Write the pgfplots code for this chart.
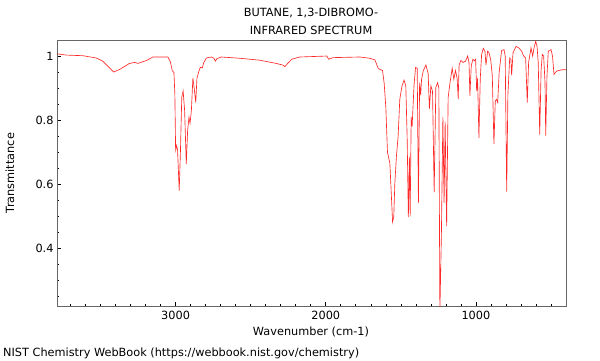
\documentclass[border=0pt]{standalone}
\usepackage{pgfplots}
\pgfplotsset{compat=1.18}
\usepackage{pgfplotstable}
\usepackage{fontspec}
\setmainfont{DejaVu Sans}
\definecolor{specred}{RGB}{255,40,40}
\pgfplotstableread{
wn T
3790 1.007
3729 1.003
3618 1.001
3529 0.994
3485 0.984
3440 0.963
3413 0.950
3373 0.958
3307 0.977
3273 0.980
3251 0.977
3195 0.986
3151 0.997
3051 0.997
3035 0.982
3022 0.954
3011 0.948
3005 0.880
3000 0.706
2993 0.721
2987 0.706
2976 0.580
2968 0.700
2959 0.871
2950 0.891
2940 0.830
2929 0.663
2920 0.768
2911 0.809
2904 0.790
2895 0.830
2885 0.931
2875 0.895
2866 0.855
2858 0.930
2845 0.953
2835 0.965
2822 0.963
2813 0.979
2795 0.994
2762 0.997
2745 0.993
2735 0.984
2725 0.992
2695 0.997
2572 0.993
2440 0.987
2340 0.978
2287 0.972
2273 0.967
2227 0.990
2173 0.997
1993 1.000
1980 0.990
1953 0.995
1773 0.997
1707 0.993
1673 0.988
1651 0.962
1640 0.958
1622 0.955
1611 0.915
1600 0.840
1589 0.700
1573 0.665
1555 0.482
1547 0.500
1540 0.603
1529 0.690
1518 0.750
1507 0.865
1493 0.905
1479 0.925
1467 0.907
1458 0.747
1450 0.497
1443 0.685
1438 0.500
1431 0.809
1425 0.780
1412 0.910
1402 0.964
1391 0.962
1383 0.541
1375 0.917
1368 0.878
1362 0.927
1350 0.955
1333 0.972
1318 0.945
1310 0.835
1300 0.907
1289 0.890
1278 0.575
1267 0.902
1255 0.917
1247 0.900
1240 0.200
1230 0.440
1220 0.809
1212 0.541
1205 0.795
1195 0.469
1185 0.870
1173 0.915
1158 0.962
1147 0.927
1136 0.955
1125 0.930
1118 0.866
1112 0.972
1100 0.986
1085 0.980
1069 0.984
1055 1.000
1046 0.980
1040 0.876
1031 0.970
1020 0.990
1011 0.985
1002 0.990
995 0.891
989 0.930
980 0.745
971 0.930
962 1.005
951 1.024
940 1.015
933 0.972
922 1.015
913 1.010
902 0.990
891 0.940
880 0.725
871 0.860
862 0.865
855 0.855
845 0.950
829 1.017
813 1.020
805 1.000
795 0.577
787 0.880
775 0.994
767 0.990
762 0.940
753 1.010
733 1.030
713 1.025
695 1.015
682 1.000
669 0.994
658 0.855
649 0.980
633 1.025
622 1.000
613 1.025
602 1.046
593 1.030
585 0.980
575 0.755
566 0.955
558 1.005
549 1.000
540 0.920
535 0.752
527 0.935
518 1.015
500 1.020
490 1.000
480 0.943
462 0.953
429 0.957
400 0.957
}\spec
\begin{document}
\begin{tikzpicture}[x=1bp,y=1bp,font=\fontsize{11.3bp}{13.5bp}\selectfont]
\path[use as bounding box] (0,0) rectangle (600,360);
\begin{axis}[
  at={(57bp,54bp)}, anchor=south west,
  scale only axis, width=509bp, height=266bp,
  x dir=reverse,
  xmin=400, xmax=3790,
  ymin=0.22, ymax=1.05,
  xtick={1000,2000,3000},
  minor xtick={500,600,...,3700},
  ytick={0.4,0.6,0.8,1},
  yticklabels={0.4,0.6,0.8,1},
  minor ytick={0.25,0.3,0.35,0.45,0.5,0.55,0.65,0.7,0.75,0.85,0.9,0.95,1.0},
  tick align=inside,
  xtick pos=bottom, ytick pos=left,
  major tick length=4bp, minor tick length=2.5bp,
  every tick/.style={black, line width=0.6bp},
  axis line style={draw=black!60, line width=0.9bp},
  /pgf/number format/assume math mode=true,
  /pgf/number format/1000 sep={},
  tick label style={font=\fontsize{11.3bp}{13.5bp}\selectfont},
  xticklabel style={yshift=-1.5bp},
]
\addplot[specred, line width=0.65bp] table[x=wn, y=T] {\spec};
\end{axis}
\node at (311,347) {BUTANE, 1,3-DIBROMO-};
\node at (311,330) {INFRARED SPECTRUM};
\node at (311,28) {Wavenumber (cm-1)};
\node[rotate=90] at (10,187) {Transmittance};
\node[anchor=west, inner sep=0pt] at (3,7) {NIST Chemistry WebBook (https://webbook.nist.gov/chemistry)};
\end{tikzpicture}
\end{document}
